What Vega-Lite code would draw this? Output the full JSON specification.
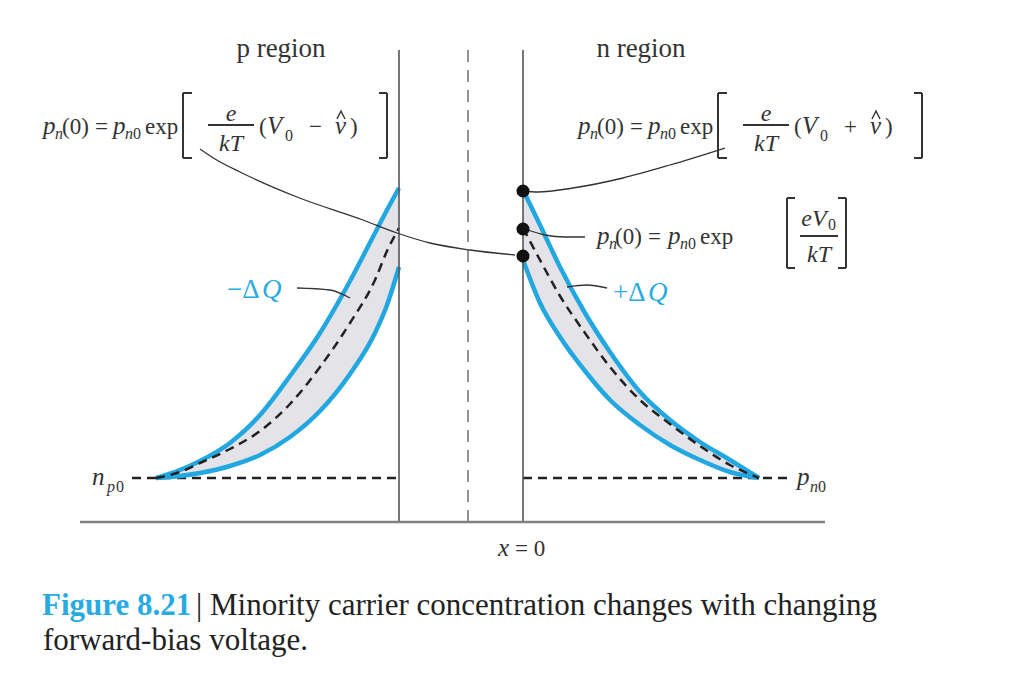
{
  "$schema": "https://vega.github.io/schema/vega-lite/v6.json",
  "width": 1024,
  "height": 680,
  "autosize": {"type": "fit", "contains": "padding"},
  "padding": 0,
  "background": "white",
  "config": {"view": {"stroke": null}, "text": {"font": "Liberation Serif"}},
  "datasets": {
    "curves": [
      {"side": "p", "x": -36.7, "upper": 4.4, "mid": 4.4, "lower": 4.4},
      {"side": "p", "x": -34.3, "upper": 5.2, "mid": 5.0, "lower": 4.6},
      {"side": "p", "x": -32.3, "upper": 6.1, "mid": 5.9, "lower": 4.9},
      {"side": "p", "x": -29.3, "upper": 7.9, "mid": 7.3, "lower": 5.6},
      {"side": "p", "x": -26.3, "upper": 10.7, "mid": 9.1, "lower": 6.7},
      {"side": "p", "x": -23.3, "upper": 14.6, "mid": 11.8, "lower": 8.5},
      {"side": "p", "x": -20.3, "upper": 18.9, "mid": 15.5, "lower": 11.1},
      {"side": "p", "x": -17.3, "upper": 24.1, "mid": 19.9, "lower": 14.8},
      {"side": "p", "x": -14.8, "upper": 28.9, "mid": 24.2, "lower": 18.9},
      {"side": "p", "x": -13.6, "upper": 31.2, "mid": 27.1, "lower": 21.7},
      {"side": "p", "x": -12.4, "upper": 33.4, "mid": 29.4, "lower": 25.5},
      {"side": "n", "x": 0, "upper": 33.2, "mid": 29.4, "lower": 26.2},
      {"side": "n", "x": 1.7, "upper": 29.7, "mid": 26.2, "lower": 21.9},
      {"side": "n", "x": 3.7, "upper": 25.5, "mid": 22.6, "lower": 18.5},
      {"side": "n", "x": 6.2, "upper": 20.9, "mid": 18.9, "lower": 15.1},
      {"side": "n", "x": 8.7, "upper": 17.0, "mid": 15.5, "lower": 12.2},
      {"side": "n", "x": 11.7, "upper": 13.0, "mid": 12.2, "lower": 9.7},
      {"side": "n", "x": 14.7, "upper": 10.2, "mid": 9.8, "lower": 7.7},
      {"side": "n", "x": 17.7, "upper": 8.0, "mid": 7.6, "lower": 6.2},
      {"side": "n", "x": 20.7, "upper": 6.2, "mid": 5.7, "lower": 5.0},
      {"side": "n", "x": 23.6, "upper": 4.4, "mid": 4.4, "lower": 4.4}
    ],
    "baselines": [
      {"x": -39.1, "x2": -12.4, "y": 4.4},
      {"x": 0, "x2": 26.9, "y": 4.4}
    ],
    "boundaries": [
      {"x": -12.4, "y": 0, "y2": 47.2},
      {"x": 0, "y": 0, "y2": 47.2}
    ],
    "junction": [{"x": -5.5, "y": 0, "y2": 47.2}],
    "axisline": [{"x": -44.3, "x2": 30.2, "y": 0}],
    "pointers": [
      {"id": "L", "ord": 1, "x": -32.3, "y": 37.3},
      {"id": "L", "ord": 2, "x": -30.8, "y": 36.3},
      {"id": "L", "ord": 3, "x": -28.3, "y": 35.0},
      {"id": "L", "ord": 4, "x": -22.6, "y": 32.5},
      {"id": "L", "ord": 5, "x": -16.0, "y": 30.2},
      {"id": "L", "ord": 6, "x": -12.6, "y": 28.9},
      {"id": "L", "ord": 7, "x": -9.3, "y": 27.9},
      {"id": "L", "ord": 8, "x": -5.3, "y": 27.2},
      {"id": "L", "ord": 9, "x": -0.8, "y": 26.7},
      {"id": "R", "ord": 1, "x": 0, "y": 33.1},
      {"id": "R", "ord": 2, "x": 1.5, "y": 33.0},
      {"id": "R", "ord": 3, "x": 5.0, "y": 33.4},
      {"id": "R", "ord": 4, "x": 10.0, "y": 34.4},
      {"id": "R", "ord": 5, "x": 14.7, "y": 35.7},
      {"id": "R", "ord": 6, "x": 20.2, "y": 37.4},
      {"id": "M", "ord": 1, "x": 0.2, "y": 29.3},
      {"id": "M", "ord": 2, "x": 2.2, "y": 28.7},
      {"id": "M", "ord": 3, "x": 4.2, "y": 28.5},
      {"id": "M", "ord": 4, "x": 6.2, "y": 28.5},
      {"id": "QL", "ord": 1, "x": -22.6, "y": 23.4},
      {"id": "QL", "ord": 2, "x": -19.3, "y": 23.2},
      {"id": "QL", "ord": 3, "x": -17.3, "y": 22.4},
      {"id": "QR", "ord": 1, "x": 4.4, "y": 23.5},
      {"id": "QR", "ord": 2, "x": 6.4, "y": 23.7},
      {"id": "QR", "ord": 3, "x": 8.4, "y": 23.4}
    ],
    "hatlines": [
      {"id": "hL", "ord": 1, "x": -18.6, "y": 40.3},
      {"id": "hL", "ord": 2, "x": -18.2, "y": 41.1},
      {"id": "hL", "ord": 3, "x": -17.8, "y": 40.3},
      {"id": "hR", "ord": 1, "x": 34.9, "y": 40.3},
      {"id": "hR", "ord": 2, "x": 35.3, "y": 41.1},
      {"id": "hR", "ord": 3, "x": 35.7, "y": 40.3}
    ],
    "dots": [
      {"x": 0, "y": 33.1},
      {"x": 0, "y": 29.3},
      {"x": 0, "y": 26.6}
    ],
    "segs": [
      {"x": -31.5, "x2": -26.9, "y": 39.7, "y2": 39.7},
      {"x": 22.0, "x2": 26.6, "y": 39.7, "y2": 39.7},
      {"x": 27.7, "x2": 31.5, "y": 28.6, "y2": 28.6},
      {"x": -34.0, "x2": -34.0, "y": 42.9, "y2": 36.4},
      {"x": -34.0, "x2": -33.1, "y": 42.9, "y2": 42.9},
      {"x": -34.0, "x2": -33.1, "y": 36.4, "y2": 36.4},
      {"x": -13.6, "x2": -13.6, "y": 42.9, "y2": 36.4},
      {"x": -14.4, "x2": -13.6, "y": 42.9, "y2": 42.9},
      {"x": -14.4, "x2": -13.6, "y": 36.4, "y2": 36.4},
      {"x": 19.5, "x2": 19.5, "y": 42.9, "y2": 36.4},
      {"x": 19.5, "x2": 20.4, "y": 42.9, "y2": 42.9},
      {"x": 19.5, "x2": 20.4, "y": 36.4, "y2": 36.4},
      {"x": 39.9, "x2": 39.9, "y": 42.9, "y2": 36.4},
      {"x": 39.1, "x2": 39.9, "y": 42.9, "y2": 42.9},
      {"x": 39.1, "x2": 39.9, "y": 36.4, "y2": 36.4},
      {"x": 26.4, "x2": 26.4, "y": 32.4, "y2": 25.4},
      {"x": 26.4, "x2": 27.2, "y": 32.4, "y2": 32.4},
      {"x": 26.4, "x2": 27.2, "y": 25.4, "y2": 25.4},
      {"x": 32.3, "x2": 32.3, "y": 32.4, "y2": 25.4},
      {"x": 31.5, "x2": 32.3, "y": 32.4, "y2": 32.4},
      {"x": 31.5, "x2": 32.3, "y": 25.4, "y2": 25.4}
    ],
    "roman": [
      {"x": -46.1, "y": 38.8, "t": "(0)"},
      {"x": -42.8, "y": 38.8, "t": "="},
      {"x": -37.8, "y": 38.8, "t": "exp"},
      {"x": -26.4, "y": 38.8, "t": "("},
      {"x": -21.4, "y": 38.8, "t": "−"},
      {"x": -17.3, "y": 38.8, "t": ")"},
      {"x": 7.4, "y": 38.8, "t": "(0)"},
      {"x": 10.7, "y": 38.8, "t": "="},
      {"x": 15.7, "y": 38.8, "t": "exp"},
      {"x": 27.1, "y": 38.8, "t": "("},
      {"x": 32.1, "y": 38.8, "t": "+"},
      {"x": 36.2, "y": 38.8, "t": ")"},
      {"x": 9.2, "y": 27.8, "t": "(0)"},
      {"x": 12.5, "y": 27.8, "t": "="},
      {"x": 17.7, "y": 27.8, "t": "exp"},
      {"x": -0.8, "y": -3.4, "t": "= 0"}
    ],
    "italic": [
      {"x": -48.0, "y": 38.8, "t": "p"},
      {"x": -41.0, "y": 38.8, "t": "p"},
      {"x": -25.6, "y": 38.8, "t": "V"},
      {"x": -18.8, "y": 38.8, "t": "ν"},
      {"x": 5.5, "y": 38.8, "t": "p"},
      {"x": 12.5, "y": 38.8, "t": "p"},
      {"x": 27.9, "y": 38.8, "t": "V"},
      {"x": 34.7, "y": 38.8, "t": "ν"},
      {"x": 7.4, "y": 27.8, "t": "p"},
      {"x": 14.5, "y": 27.8, "t": "p"},
      {"x": -2.5, "y": -3.4, "t": "x"},
      {"x": -43.1, "y": 3.7, "t": "n"},
      {"x": 27.4, "y": 3.7, "t": "p"}
    ],
    "subItalic": [
      {"x": -46.8, "y": 38.3, "t": "n"},
      {"x": -39.8, "y": 38.3, "t": "n"},
      {"x": 6.7, "y": 38.3, "t": "n"},
      {"x": 13.7, "y": 38.3, "t": "n"},
      {"x": 8.6, "y": 27.3, "t": "n"},
      {"x": 15.7, "y": 27.3, "t": "n"},
      {"x": -41.6, "y": 3.0, "t": "p"},
      {"x": 28.7, "y": 3.0, "t": "n"}
    ],
    "subRoman": [
      {"x": -39.0, "y": 38.3, "t": "0"},
      {"x": -23.8, "y": 38.1, "t": "0"},
      {"x": 14.5, "y": 38.3, "t": "0"},
      {"x": 29.7, "y": 38.1, "t": "0"},
      {"x": 16.5, "y": 27.3, "t": "0"},
      {"x": 30.5, "y": 29.2, "t": "0"},
      {"x": -40.7, "y": 3.0, "t": "0"},
      {"x": 29.5, "y": 3.0, "t": "0"}
    ],
    "fracItalic": [
      {"x": -29.2, "y": 40.1, "t": "e"},
      {"x": -29.2, "y": 37.1, "t": "kT"},
      {"x": 24.3, "y": 40.1, "t": "e"},
      {"x": 24.3, "y": 37.1, "t": "kT"},
      {"x": 29.1, "y": 29.6, "t": "eV"},
      {"x": 29.6, "y": 26.0, "t": "kT"}
    ],
    "regions": [
      {"x": -24.2, "y": 46.5, "t": "p region"},
      {"x": 11.8, "y": 46.5, "t": "n region"}
    ],
    "blueRoman": [
      {"x": -29.6, "y": 22.4, "t": "−Δ"},
      {"x": 9.0, "y": 22.1, "t": "+Δ"}
    ],
    "blueItalic": [
      {"x": -26.1, "y": 22.4, "t": "Q"},
      {"x": 12.5, "y": 22.1, "t": "Q"}
    ],
    "captionBold": [
      {"x": -48.1, "y": -9.3, "t": "Figure 8.21"}
    ],
    "caption": [
      {"x": -32.7, "y": -9.3, "t": "| Minority carrier concentration changes with changing"},
      {"x": -48.0, "y": -12.8, "t": "forward-bias voltage."}
    ]
  },
  "encoding": {
    "x": {"field": "x", "type": "quantitative", "scale": {"domain": [-52.3, 50.1], "nice": false, "zero": false}, "axis": null},
    "y": {"field": "y", "type": "quantitative", "scale": {"domain": [-15.8, 52.2], "nice": false, "zero": false}, "axis": null}
  },
  "layer": [
    {
      "data": {"name": "curves"},
      "mark": {"type": "area", "color": "#e4e4e8", "opacity": 1, "interpolate": "monotone"},
      "encoding": {
        "y": {"field": "upper", "type": "quantitative"},
        "y2": {"field": "lower"},
        "detail": {"field": "side"}
      }
    },
    {
      "data": {"name": "baselines"},
      "mark": {"type": "rule", "color": "#222222", "strokeWidth": 2.5, "strokeDash": [9, 6]},
      "encoding": {"x2": {"field": "x2"}}
    },
    {
      "data": {"name": "curves"},
      "mark": {"type": "line", "color": "#22a7e0", "strokeWidth": 4.5, "interpolate": "monotone"},
      "encoding": {
        "y": {"field": "upper", "type": "quantitative"},
        "detail": {"field": "side"}
      }
    },
    {
      "data": {"name": "curves"},
      "mark": {"type": "line", "color": "#22a7e0", "strokeWidth": 4.5, "interpolate": "monotone"},
      "encoding": {
        "y": {"field": "lower", "type": "quantitative"},
        "detail": {"field": "side"}
      }
    },
    {
      "data": {"name": "curves"},
      "mark": {"type": "line", "color": "#222222", "strokeWidth": 2.5, "strokeDash": [9, 6], "interpolate": "monotone"},
      "encoding": {
        "y": {"field": "mid", "type": "quantitative"},
        "detail": {"field": "side"}
      }
    },
    {
      "data": {"name": "boundaries"},
      "mark": {"type": "rule", "color": "#555555", "strokeWidth": 1.6},
      "encoding": {"y2": {"field": "y2"}}
    },
    {
      "data": {"name": "junction"},
      "mark": {"type": "rule", "color": "#777777", "strokeWidth": 1.6, "strokeDash": [12, 8]},
      "encoding": {"y2": {"field": "y2"}}
    },
    {
      "data": {"name": "axisline"},
      "mark": {"type": "rule", "color": "#808080", "strokeWidth": 2.5},
      "encoding": {"x2": {"field": "x2"}}
    },
    {
      "data": {"name": "pointers"},
      "mark": {"type": "line", "color": "#333333", "strokeWidth": 1.3, "interpolate": "monotone"},
      "encoding": {
        "order": {"field": "ord", "type": "quantitative"},
        "detail": {"field": "id"}
      }
    },
    {
      "data": {"name": "hatlines"},
      "mark": {"type": "line", "color": "#333333", "strokeWidth": 1.4},
      "encoding": {
        "order": {"field": "ord", "type": "quantitative"},
        "detail": {"field": "id"}
      }
    },
    {
      "data": {"name": "segs"},
      "mark": {"type": "rule", "color": "#333333", "strokeWidth": 2},
      "encoding": {"x2": {"field": "x2"}, "y2": {"field": "y2"}}
    },
    {
      "data": {"name": "dots"},
      "mark": {"type": "point", "filled": true, "color": "#111111", "size": 170, "opacity": 1}
    },
    {
      "data": {"name": "roman"},
      "mark": {"type": "text", "align": "left", "baseline": "alphabetic", "fontSize": 23, "color": "#333333"},
      "encoding": {"text": {"field": "t"}}
    },
    {
      "data": {"name": "italic"},
      "mark": {"type": "text", "align": "left", "baseline": "alphabetic", "fontSize": 25, "fontStyle": "italic", "color": "#333333"},
      "encoding": {"text": {"field": "t"}}
    },
    {
      "data": {"name": "subItalic"},
      "mark": {"type": "text", "align": "left", "baseline": "alphabetic", "fontSize": 16, "fontStyle": "italic", "color": "#333333"},
      "encoding": {"text": {"field": "t"}}
    },
    {
      "data": {"name": "subRoman"},
      "mark": {"type": "text", "align": "left", "baseline": "alphabetic", "fontSize": 16, "color": "#333333"},
      "encoding": {"text": {"field": "t"}}
    },
    {
      "data": {"name": "fracItalic"},
      "mark": {"type": "text", "align": "center", "baseline": "alphabetic", "fontSize": 24, "fontStyle": "italic", "color": "#333333"},
      "encoding": {"text": {"field": "t"}}
    },
    {
      "data": {"name": "regions"},
      "mark": {"type": "text", "align": "center", "baseline": "alphabetic", "fontSize": 27, "color": "#333333"},
      "encoding": {"text": {"field": "t"}}
    },
    {
      "data": {"name": "blueRoman"},
      "mark": {"type": "text", "align": "left", "baseline": "alphabetic", "fontSize": 27, "color": "#29abe2"},
      "encoding": {"text": {"field": "t"}}
    },
    {
      "data": {"name": "blueItalic"},
      "mark": {"type": "text", "align": "left", "baseline": "alphabetic", "fontSize": 27, "fontStyle": "italic", "color": "#29abe2"},
      "encoding": {"text": {"field": "t"}}
    },
    {
      "data": {"name": "captionBold"},
      "mark": {"type": "text", "align": "left", "baseline": "alphabetic", "fontSize": 31, "fontWeight": "bold", "color": "#29abe2"},
      "encoding": {"text": {"field": "t"}}
    },
    {
      "data": {"name": "caption"},
      "mark": {"type": "text", "align": "left", "baseline": "alphabetic", "fontSize": 31, "color": "#222222"},
      "encoding": {"text": {"field": "t"}}
    }
  ]
}
